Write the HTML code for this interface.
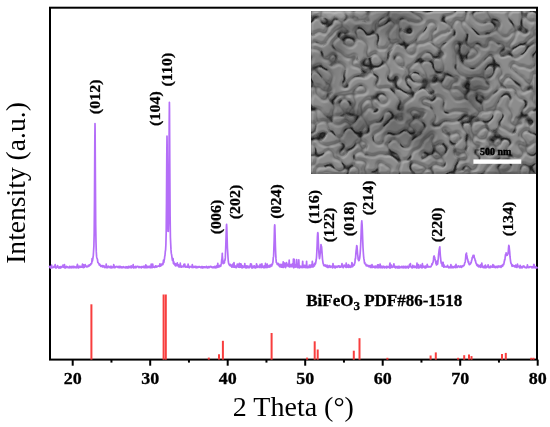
<!DOCTYPE html>
<html><head><meta charset="utf-8"><style>
html,body{margin:0;padding:0;background:#fff;}
body{width:550px;height:427px;overflow:hidden;}
svg{display:block;}
.f{font-family:"Liberation Serif","Times New Roman",serif;}
</style></head><body>
<svg width="550" height="427" viewBox="0 0 550 427">
<defs><filter id="sem" x="0" y="0" width="1" height="1" color-interpolation-filters="sRGB">
<feTurbulence type="fractalNoise" baseFrequency="0.09" numOctaves="1" seed="5"/>
<feColorMatrix type="matrix" values="0 0 0 0 0  0 0 0 0 0  0 0 0 0 0  1 0 0 0 0" result="N"/>
<feComponentTransfer in="N"><feFuncA type="table" tableValues="1.000 1.000 1.000 1.000 1.000 1.000 1.000 1.000 1.000 1.000 1.000 1.000 1.000 1.000 1.000 1.000 1.000 1.000 1.000 1.000 1.000 1.000 1.000 1.000 1.000 1.000 1.000 1.000 1.000 1.000 1.000 1.000 1.000 1.000 0.990 0.765 0.540 0.315 0.090 0.135 0.360 0.585 0.810 1.000 1.000 1.000 1.000 1.000 1.000 1.000 1.000 1.000 1.000 1.000 1.000 1.000 1.000 1.000 1.000 1.000 1.000 1.000 1.000 1.000 1.000 1.000 1.000 1.000 1.000 1.000 1.000 1.000 1.000 1.000 1.000 1.000 1.000 1.000 1.000 1.000 1.000"/></feComponentTransfer>
<feGaussianBlur stdDeviation="0.8" result="H"/>
<feDiffuseLighting in="H" surfaceScale="3" diffuseConstant="1" lighting-color="#fff" result="L"><feDistantLight azimuth="250" elevation="45"/></feDiffuseLighting>
<feDiffuseLighting in="H" surfaceScale="3" diffuseConstant="1" lighting-color="#fff" result="Lz"><feDistantLight azimuth="0" elevation="90"/></feDiffuseLighting>
<feColorMatrix in="Lz" type="matrix" values="0 0 0 0 1  0 0 0 0 1  0 0 0 0 1  -0.55 0 0 0 0.55" result="E"/>
<feColorMatrix in="H" type="matrix" values="0 0 0 1 0  0 0 0 1 0  0 0 0 1 0  0 0 0 0 1" result="Hg"/>
<feBlend in="L" in2="Hg" mode="multiply"/>
<feComponentTransfer result="B"><feFuncR type="linear" slope="0.325" intercept="0.32"/><feFuncG type="linear" slope="0.325" intercept="0.32"/><feFuncB type="linear" slope="0.325" intercept="0.32"/></feComponentTransfer>
<feComponentTransfer in="N" result="C"><feFuncA type="table" tableValues="0.000 0.000 0.000 0.000 0.000 0.000 0.000 0.000 0.000 0.000 0.000 0.000 0.000 0.000 0.000 0.000 0.000 0.000 0.000 0.000 0.000 0.000 0.000 0.000 0.000 0.000 0.000 0.000 0.000 0.000 0.000 0.000 0.040 0.190 0.340 0.490 0.640 0.790 0.940 0.910 0.760 0.610 0.460 0.310 0.160 0.010 0.000 0.000 0.000 0.000 0.000 0.000 0.000 0.000 0.000 0.000 0.000 0.000 0.000 0.000 0.000 0.000 0.000 0.000 0.000 0.000 0.000 0.000 0.000 0.000 0.000 0.000 0.000 0.000 0.000 0.000 0.000 0.000 0.000 0.000 0.000"/></feComponentTransfer>
<feTurbulence type="fractalNoise" baseFrequency="0.07" numOctaves="2" seed="11"/>
<feColorMatrix type="matrix" values="0 0 0 0 0  0 0 0 0 0  0 0 0 0 0  1 0 0 0 0"/>
<feComponentTransfer result="M2"><feFuncA type="table" tableValues="0.000 0.000 0.000 0.000 0.000 0.000 0.000 0.000 0.000 0.000 0.000 0.000 0.000 0.000 0.000 0.000 0.000 0.000 0.000 0.000 0.000 0.000 0.000 0.000 0.000 0.000 0.000 0.000 0.000 0.000 0.000 0.000 0.000 0.000 0.000 0.000 0.000 0.000 0.000 0.000 0.000 0.095 0.190 0.285 0.380 0.475 0.570 0.665 0.760 0.855 0.950 0.950 0.950 0.950 0.950 0.950 0.950 0.950 0.950 0.950 0.950 0.950 0.950 0.950 0.950 0.950 0.950 0.950 0.950 0.950 0.950 0.950 0.950 0.950 0.950 0.950 0.950 0.950 0.950 0.950 0.950"/></feComponentTransfer>
<feComposite in="C" in2="M2" operator="in"/>
<feGaussianBlur stdDeviation="0.5" result="PA"/>
<feFlood flood-color="#141414"/>
<feComposite in2="PA" operator="in" result="PO"/>
<feMerge result="F"><feMergeNode in="B"/><feMergeNode in="E"/><feMergeNode in="PO"/></feMerge>
<feTurbulence type="fractalNoise" baseFrequency="0.02" numOctaves="2" seed="2"/>
<feColorMatrix type="matrix" values="0.8 0 0 0 0.55  0.8 0 0 0 0.55  0.8 0 0 0 0.55  0 0 0 0 1"/>
<feBlend in="F" mode="multiply"/>
<feGaussianBlur stdDeviation="0.75"/>
</filter></defs>
<rect x="0" y="0" width="550" height="427" fill="#fff"/>
<rect x="311" y="11" width="225" height="162.4" fill="#777" filter="url(#sem)"/>
<defs><radialGradient id="hl" cx="0.5" cy="0.5" r="0.5"><stop offset="0" stop-color="#fff" stop-opacity="0.32"/><stop offset="1" stop-color="#fff" stop-opacity="0"/></radialGradient>
<clipPath id="semclip"><rect x="311" y="11" width="225" height="162.4"/></clipPath></defs>
<ellipse cx="350" cy="14" rx="45" ry="12" fill="url(#hl)" clip-path="url(#semclip)"/>
<rect x="473.4" y="159.4" width="47.9" height="4.4" fill="#fff"/>
<text class="f" x="495.6" y="155.4" font-size="10" font-weight="bold" text-anchor="middle" fill="#000" stroke="#000" stroke-width="0.35">500 nm</text>
<g stroke="#000" stroke-width="2"><line x1="72.70" y1="359.6" x2="72.70" y2="365.70000000000005"/><line x1="111.45" y1="359.6" x2="111.45" y2="362.6"/><line x1="150.20" y1="359.6" x2="150.20" y2="365.70000000000005"/><line x1="188.95" y1="359.6" x2="188.95" y2="362.6"/><line x1="227.70" y1="359.6" x2="227.70" y2="365.70000000000005"/><line x1="266.45" y1="359.6" x2="266.45" y2="362.6"/><line x1="305.20" y1="359.6" x2="305.20" y2="365.70000000000005"/><line x1="343.95" y1="359.6" x2="343.95" y2="362.6"/><line x1="382.70" y1="359.6" x2="382.70" y2="365.70000000000005"/><line x1="421.45" y1="359.6" x2="421.45" y2="362.6"/><line x1="460.20" y1="359.6" x2="460.20" y2="365.70000000000005"/><line x1="498.95" y1="359.6" x2="498.95" y2="362.6"/><line x1="537.70" y1="359.6" x2="537.70" y2="365.70000000000005"/></g>
<rect x="50" y="7.7" width="487" height="351.9" fill="none" stroke="#000" stroke-width="2"/>
<polyline points="49.2,267.0 49.5,266.5 49.8,266.7 50.1,267.7 50.4,267.6 50.7,266.6 51.0,268.1 51.3,266.7 51.6,265.1 51.9,267.3 52.2,267.5 52.5,267.6 52.8,267.6 53.1,267.3 53.4,267.2 53.7,267.1 54.0,266.4 54.3,266.7 54.6,267.0 54.9,266.4 55.2,264.7 55.5,267.8 55.8,267.0 56.1,266.8 56.4,268.0 56.7,267.2 57.0,267.3 57.3,266.5 57.6,265.6 57.9,267.2 58.2,267.2 58.5,267.6 58.8,268.0 59.1,267.7 59.4,266.9 59.7,267.7 60.0,267.4 60.3,268.0 60.6,266.6 60.9,266.6 61.2,267.6 61.5,266.5 61.8,267.2 62.1,266.6 62.4,266.9 62.7,266.8 63.0,265.0 63.3,267.1 63.6,267.2 63.9,266.6 64.2,267.4 64.5,264.5 64.8,267.9 65.1,267.4 65.4,267.5 65.7,267.8 66.0,266.6 66.3,267.4 66.6,266.4 66.9,267.0 67.2,267.0 67.5,266.9 67.8,266.9 68.1,267.8 68.4,267.3 68.7,267.6 69.0,267.3 69.3,267.8 69.6,266.4 69.9,267.6 70.2,266.9 70.5,267.5 70.8,266.5 71.1,266.9 71.4,267.8 71.7,266.6 72.0,266.4 72.3,266.4 72.6,267.0 72.9,267.7 73.2,267.6 73.5,266.4 73.8,267.0 74.1,267.7 74.4,266.5 74.7,266.9 75.0,267.0 75.3,267.3 75.6,267.2 75.9,267.5 76.2,267.9 76.5,266.4 76.8,267.1 77.1,267.0 77.4,264.4 77.7,266.6 78.0,267.8 78.3,267.3 78.6,267.9 78.9,267.7 79.2,266.2 79.5,266.7 79.8,267.1 80.1,266.9 80.4,266.3 80.7,267.3 81.0,266.8 81.3,266.6 81.6,267.2 81.9,266.9 82.2,266.5 82.5,264.2 82.8,267.5 83.1,264.7 83.4,267.7 83.7,264.8 84.0,266.3 84.3,267.3 84.6,265.6 84.9,266.3 85.2,264.6 85.5,266.4 85.8,266.2 86.1,266.5 86.4,266.2 86.7,267.0 87.0,267.0 87.3,266.7 87.6,266.7 87.9,266.6 88.2,265.4 88.5,265.9 88.8,266.1 89.1,266.0 89.4,264.8 89.7,265.4 90.0,264.6 90.3,264.9 90.6,264.9 90.9,263.5 91.2,263.5 91.5,263.7 91.8,262.6 92.1,258.5 92.4,261.2 92.7,259.7 93.0,257.6 93.3,255.5 93.6,250.8 93.9,245.8 94.2,232.6 94.5,198.6 94.8,143.2 95.0,123.5 95.1,128.2 95.4,180.3 95.7,224.9 96.0,242.3 96.3,251.9 96.6,256.4 96.9,258.0 97.2,258.8 97.5,259.6 97.8,262.3 98.1,262.6 98.4,263.0 98.7,263.3 99.0,263.9 99.3,264.9 99.6,264.0 99.9,265.4 100.2,265.0 100.5,265.5 100.8,266.5 101.1,266.5 101.4,266.3 101.7,265.7 102.0,265.7 102.3,266.0 102.6,267.0 102.9,265.7 103.2,266.0 103.5,265.9 103.8,266.5 104.1,266.0 104.4,267.4 104.7,267.5 105.0,267.6 105.3,267.1 105.6,267.2 105.9,267.4 106.2,264.1 106.5,267.6 106.8,266.7 107.1,267.5 107.4,266.6 107.7,267.7 108.0,267.2 108.3,266.2 108.6,266.9 108.9,266.4 109.2,266.7 109.5,266.8 109.8,267.5 110.1,266.8 110.4,267.8 110.7,266.5 111.0,266.2 111.3,266.4 111.6,267.8 111.9,267.3 112.2,267.4 112.5,267.7 112.8,266.8 113.1,266.5 113.4,267.4 113.7,264.6 114.0,266.5 114.3,267.7 114.6,266.6 114.9,266.4 115.2,267.6 115.5,267.0 115.8,266.8 116.1,266.9 116.4,266.5 116.7,266.8 117.0,266.9 117.3,266.6 117.6,266.6 117.9,267.4 118.2,266.7 118.5,266.5 118.8,266.5 119.1,267.7 119.4,266.3 119.7,266.8 120.0,267.6 120.3,267.0 120.6,266.4 120.9,267.3 121.2,267.5 121.5,267.2 121.8,266.9 122.1,267.8 122.4,267.3 122.7,267.7 123.0,266.9 123.3,266.6 123.6,267.3 123.9,267.4 124.2,267.1 124.5,267.6 124.8,267.6 125.1,267.4 125.4,267.2 125.7,267.8 126.0,266.7 126.3,267.0 126.6,267.5 126.9,267.8 127.2,266.7 127.5,267.8 127.8,267.8 128.1,267.8 128.4,267.8 128.7,266.4 129.0,267.5 129.3,267.5 129.6,266.6 129.9,266.9 130.2,267.7 130.5,267.3 130.8,266.5 131.1,265.8 131.4,266.8 131.7,267.8 132.0,266.7 132.3,266.6 132.6,266.6 132.9,266.8 133.2,264.5 133.5,267.9 133.8,267.1 134.1,266.7 134.4,267.7 134.7,267.5 135.0,267.1 135.3,266.7 135.6,266.4 135.9,267.8 136.2,267.6 136.5,266.6 136.8,266.8 137.1,266.7 137.4,266.3 137.7,266.3 138.0,266.5 138.3,266.6 138.6,267.3 138.9,266.9 139.2,267.6 139.5,266.7 139.8,266.6 140.1,266.7 140.4,267.2 140.7,267.3 141.0,267.2 141.3,267.9 141.6,266.5 141.9,267.0 142.2,267.2 142.5,267.0 142.8,266.7 143.1,267.3 143.4,266.5 143.7,266.3 144.0,267.2 144.3,267.7 144.6,266.6 144.9,266.2 145.2,267.7 145.5,266.6 145.8,264.8 146.1,266.3 146.4,267.7 146.7,267.7 147.0,266.2 147.3,267.6 147.6,267.5 147.9,266.8 148.2,267.1 148.5,266.6 148.8,267.5 149.1,266.2 149.4,267.4 149.7,266.5 150.0,267.6 150.3,267.0 150.6,267.7 150.9,267.2 151.2,264.2 151.5,266.5 151.8,266.9 152.1,267.6 152.4,266.0 152.7,264.1 153.0,266.1 153.3,267.2 153.6,266.9 153.9,267.2 154.2,267.4 154.5,267.4 154.8,266.7 155.1,267.3 155.4,265.9 155.7,265.9 156.0,266.6 156.3,267.0 156.6,266.2 156.9,266.9 157.2,266.4 157.5,266.6 157.8,266.2 158.1,266.1 158.4,266.1 158.7,266.2 159.0,265.6 159.3,265.4 159.6,266.4 159.9,263.9 160.2,266.2 160.5,264.8 160.8,264.4 161.1,265.6 161.4,264.3 161.7,265.4 162.0,264.7 162.3,264.3 162.6,263.3 162.9,264.5 163.2,262.9 163.5,260.0 163.8,262.5 164.1,260.5 164.4,259.4 164.7,256.6 165.0,255.2 165.3,251.5 165.6,249.8 165.9,244.4 166.2,232.6 166.5,202.1 166.8,154.3 167.0,136.2 167.1,140.9 167.4,182.2 167.7,217.8 168.0,231.2 168.3,231.4 168.6,219.7 168.9,182.2 169.2,123.3 169.4,102.3 169.5,108.4 169.8,166.7 170.1,215.6 170.4,237.3 170.7,243.9 171.0,249.9 171.3,253.4 171.6,254.6 171.9,256.8 172.2,258.8 172.5,260.5 172.8,260.4 173.1,258.7 173.4,263.5 173.7,261.7 174.0,264.2 174.3,263.8 174.6,263.2 174.9,265.1 175.2,264.3 175.5,265.8 175.8,263.9 176.1,265.1 176.4,264.3 176.7,264.8 177.0,265.6 177.3,262.9 177.6,264.9 177.9,265.7 178.2,265.8 178.5,264.9 178.8,267.0 179.1,266.1 179.4,265.7 179.7,265.9 180.0,267.0 180.3,263.2 180.6,266.9 180.9,266.9 181.2,266.0 181.5,267.2 181.8,266.8 182.1,266.3 182.4,266.3 182.7,266.7 183.0,266.2 183.3,266.8 183.6,266.6 183.9,264.4 184.2,266.5 184.5,266.6 184.8,264.2 185.1,266.7 185.4,267.0 185.7,266.5 186.0,267.1 186.3,267.0 186.6,266.5 186.9,266.9 187.2,267.2 187.5,266.4 187.8,267.2 188.1,264.2 188.4,266.5 188.7,267.1 189.0,266.6 189.3,267.8 189.6,267.2 189.9,266.4 190.2,266.9 190.5,266.9 190.8,266.7 191.1,266.7 191.4,266.9 191.7,267.1 192.0,267.5 192.3,264.5 192.6,267.4 192.9,267.2 193.2,266.2 193.5,267.3 193.8,267.1 194.1,267.3 194.4,266.9 194.7,266.3 195.0,266.4 195.3,267.3 195.6,267.5 195.9,266.4 196.2,267.1 196.5,266.8 196.8,267.8 197.1,266.5 197.4,267.4 197.7,267.1 198.0,267.6 198.3,267.2 198.6,266.5 198.9,266.5 199.2,267.1 199.5,266.6 199.8,267.2 200.1,267.3 200.4,267.0 200.7,267.6 201.0,267.4 201.3,266.7 201.6,266.6 201.9,267.9 202.2,266.7 202.5,266.6 202.8,267.2 203.1,267.8 203.4,266.8 203.7,267.5 204.0,266.8 204.3,267.3 204.6,266.8 204.9,267.5 205.2,267.1 205.5,267.1 205.8,266.9 206.1,267.6 206.4,266.3 206.7,267.4 207.0,267.4 207.3,267.5 207.6,267.8 207.9,267.2 208.2,266.6 208.5,266.7 208.8,267.6 209.1,267.7 209.4,267.4 209.7,266.6 210.0,267.1 210.3,266.3 210.6,266.8 210.9,266.8 211.2,266.6 211.5,266.6 211.8,267.3 212.1,267.5 212.4,267.1 212.7,267.0 213.0,267.6 213.3,267.1 213.6,266.8 213.9,267.6 214.2,267.6 214.5,267.5 214.8,267.3 215.1,266.2 215.4,267.8 215.7,267.4 216.0,267.5 216.3,266.9 216.6,267.7 216.9,265.6 217.2,267.3 217.5,267.1 217.8,263.3 218.1,267.2 218.4,266.3 218.7,266.7 219.0,266.5 219.3,265.8 219.6,266.8 219.9,265.4 220.2,265.3 220.5,265.6 220.8,266.0 221.1,264.4 221.4,263.2 221.7,259.9 222.0,258.3 222.3,253.3 222.3,255.6 222.6,258.4 222.9,261.5 223.2,263.6 223.5,263.0 223.8,263.2 224.1,262.8 224.4,262.8 224.7,260.2 225.0,260.3 225.3,257.9 225.6,250.6 225.9,243.0 226.2,233.1 226.5,224.7 226.6,224.4 226.8,227.3 227.1,237.8 227.4,247.7 227.7,252.1 228.0,257.3 228.3,261.2 228.6,263.2 228.9,264.0 229.2,264.5 229.5,265.2 229.8,265.1 230.1,264.2 230.4,266.0 230.7,264.8 231.0,265.5 231.3,265.1 231.6,266.1 231.9,267.2 232.2,265.6 232.5,266.9 232.8,264.1 233.1,265.8 233.4,266.1 233.7,267.1 234.0,262.5 234.3,265.6 234.6,267.1 234.9,266.1 235.2,267.4 235.5,266.0 235.8,266.4 236.1,266.7 236.4,267.7 236.7,266.6 237.0,266.0 237.3,264.0 237.6,266.2 237.9,266.2 238.2,266.5 238.5,267.2 238.8,264.1 239.1,266.9 239.4,263.4 239.7,267.3 240.0,266.2 240.3,266.5 240.6,263.9 240.9,267.1 241.2,264.0 241.5,266.4 241.8,267.1 242.1,267.9 242.4,265.8 242.7,266.4 243.0,267.5 243.3,266.4 243.6,267.3 243.9,266.9 244.2,266.1 244.5,267.0 244.8,263.5 245.1,267.3 245.4,267.8 245.7,267.5 246.0,267.4 246.3,265.8 246.6,267.9 246.9,267.0 247.2,267.5 247.5,266.4 247.8,266.0 248.1,267.4 248.4,266.7 248.7,266.9 249.0,267.8 249.3,267.7 249.6,266.0 249.9,266.9 250.2,266.2 250.5,263.8 250.8,266.7 251.1,266.1 251.4,264.0 251.7,268.0 252.0,266.8 252.3,267.2 252.6,266.3 252.9,267.8 253.2,267.4 253.5,266.2 253.8,267.0 254.1,267.0 254.4,265.9 254.7,267.3 255.0,267.9 255.3,267.1 255.6,267.6 255.9,267.8 256.2,266.7 256.5,263.8 256.8,264.7 257.1,266.6 257.4,267.3 257.7,266.7 258.0,266.3 258.3,266.7 258.6,266.2 258.9,266.8 259.2,267.5 259.5,266.7 259.8,266.9 260.1,264.4 260.4,266.6 260.7,266.1 261.0,267.7 261.3,266.7 261.6,266.3 261.9,263.9 262.2,267.3 262.5,267.1 262.8,266.7 263.1,266.4 263.4,266.7 263.7,267.7 264.0,266.1 264.3,265.8 264.6,267.6 264.9,267.3 265.2,267.4 265.5,263.4 265.8,265.8 266.1,267.7 266.4,267.0 266.7,267.3 267.0,266.6 267.3,264.2 267.6,267.5 267.9,267.2 268.2,266.5 268.5,266.4 268.8,265.8 269.1,266.4 269.4,267.0 269.7,266.5 270.0,265.0 270.3,265.5 270.6,266.7 270.9,264.8 271.2,265.8 271.5,264.3 271.8,265.8 272.1,263.9 272.4,264.3 272.7,263.2 273.0,261.3 273.3,257.4 273.6,256.4 273.9,248.1 274.2,239.7 274.5,227.1 274.7,224.9 274.8,225.0 275.1,234.9 275.4,245.9 275.7,253.7 276.0,258.9 276.3,262.4 276.6,262.7 276.9,263.0 277.2,264.4 277.5,264.2 277.8,263.6 278.1,264.9 278.4,263.5 278.7,263.7 279.0,265.8 279.3,264.6 279.6,266.3 279.9,266.8 280.2,266.0 280.5,265.5 280.8,264.3 281.1,267.1 281.4,265.1 281.7,266.0 282.0,267.2 282.3,264.3 282.6,265.3 282.9,267.3 283.2,261.8 283.5,267.4 283.8,262.9 284.1,266.7 284.4,264.6 284.7,263.1 285.0,264.7 285.3,265.7 285.6,267.6 285.9,265.9 286.2,266.3 286.5,262.6 286.8,265.4 287.1,265.6 287.4,264.5 287.7,264.3 288.0,265.2 288.3,266.5 288.6,265.3 288.9,264.9 289.2,260.2 289.5,267.0 289.8,266.4 290.1,264.7 290.4,264.7 290.7,266.7 291.0,264.7 291.3,266.6 291.6,266.7 291.9,265.4 292.2,266.3 292.5,263.5 292.8,266.7 293.1,266.5 293.4,259.2 293.7,267.8 294.0,265.4 294.3,259.3 294.6,265.7 294.9,265.2 295.2,267.2 295.5,264.9 295.8,267.0 296.1,266.9 296.4,265.4 296.7,259.7 297.0,266.9 297.3,265.8 297.6,267.3 297.9,267.6 298.2,265.6 298.5,265.4 298.8,259.8 299.1,265.8 299.4,267.8 299.7,266.6 300.0,266.0 300.3,267.3 300.6,267.0 300.9,266.4 301.2,266.4 301.5,267.5 301.8,266.1 302.1,267.7 302.4,265.4 302.7,261.4 303.0,267.3 303.3,267.4 303.6,265.3 303.9,267.2 304.2,266.3 304.5,265.3 304.8,265.4 305.1,267.7 305.4,266.5 305.7,266.3 306.0,266.0 306.3,267.0 306.6,261.4 306.9,267.8 307.2,267.7 307.5,266.3 307.8,267.6 308.1,267.2 308.4,266.8 308.7,267.5 309.0,267.6 309.3,265.2 309.6,266.5 309.9,267.0 310.2,265.7 310.5,267.5 310.8,266.8 311.1,264.9 311.4,265.0 311.7,265.7 312.0,267.0 312.3,261.3 312.6,264.4 312.9,266.5 313.2,266.9 313.5,266.2 313.8,264.9 314.1,264.5 314.4,265.9 314.7,263.4 315.0,264.4 315.3,264.0 315.6,263.4 315.9,261.5 316.2,260.0 316.5,257.5 316.8,252.3 317.1,246.0 317.4,237.3 317.7,232.8 317.8,232.6 318.0,233.4 318.3,240.7 318.6,247.6 318.9,252.8 319.2,256.3 319.5,258.7 319.8,256.8 320.1,254.2 320.4,252.6 320.7,249.2 321.0,244.6 321.2,245.9 321.3,246.1 321.6,246.8 321.9,250.8 322.2,255.0 322.5,259.3 322.8,261.3 323.1,263.3 323.4,264.0 323.7,265.4 324.0,265.2 324.3,265.9 324.6,265.1 324.9,265.5 325.2,264.9 325.5,265.1 325.8,266.4 326.1,266.5 326.4,265.3 326.7,266.3 327.0,267.1 327.3,267.3 327.6,265.4 327.9,266.3 328.2,267.5 328.5,266.5 328.8,266.5 329.1,266.7 329.4,265.6 329.7,265.7 330.0,267.4 330.3,267.4 330.6,266.9 330.9,266.0 331.2,266.5 331.5,266.3 331.8,266.6 332.1,267.4 332.4,266.1 332.7,267.8 333.0,263.6 333.3,266.1 333.6,266.8 333.9,265.8 334.2,266.7 334.5,267.7 334.8,266.9 335.1,266.4 335.4,267.8 335.7,267.3 336.0,266.0 336.3,266.7 336.6,267.0 336.9,266.8 337.2,267.3 337.5,266.5 337.8,266.0 338.1,266.0 338.4,265.8 338.7,266.8 339.0,266.9 339.3,266.1 339.6,267.3 339.9,266.2 340.2,267.2 340.5,266.4 340.8,267.2 341.1,266.6 341.4,265.9 341.7,265.8 342.0,263.7 342.3,266.7 342.6,267.1 342.9,267.1 343.2,267.7 343.5,267.3 343.8,266.5 344.1,265.0 344.4,266.4 344.7,265.8 345.0,265.7 345.3,265.9 345.6,266.1 345.9,267.4 346.2,263.1 346.5,267.3 346.8,265.8 347.1,265.8 347.4,266.4 347.7,266.6 348.0,267.2 348.3,264.6 348.6,267.0 348.9,267.4 349.2,265.6 349.5,265.8 349.8,265.5 350.1,267.1 350.4,267.3 350.7,266.9 351.0,267.1 351.3,266.9 351.6,266.0 351.9,262.6 352.2,263.6 352.5,266.6 352.8,265.8 353.1,265.9 353.4,265.5 353.7,265.3 354.0,264.4 354.3,265.0 354.6,263.2 354.9,263.2 355.2,258.9 355.5,258.9 355.8,254.6 356.1,250.9 356.4,248.8 356.7,245.5 356.8,245.9 357.0,246.2 357.3,250.4 357.6,254.0 357.9,256.2 358.2,259.8 358.5,259.8 358.8,260.6 359.1,260.5 359.4,259.4 359.7,258.1 360.0,255.1 360.3,251.5 360.6,246.6 360.9,240.1 361.2,231.3 361.5,223.8 361.8,220.8 361.8,221.2 362.1,224.6 362.4,231.5 362.7,239.8 363.0,247.2 363.3,252.2 363.6,256.3 363.9,258.7 364.2,260.5 364.5,263.2 364.8,262.6 365.1,263.6 365.4,264.3 365.7,264.7 366.0,264.3 366.3,265.9 366.6,265.2 366.9,265.3 367.2,265.7 367.5,265.2 367.8,266.1 368.1,266.2 368.4,266.5 368.7,265.5 369.0,266.6 369.3,266.1 369.6,266.7 369.9,265.7 370.2,265.7 370.5,267.5 370.8,265.7 371.1,266.4 371.4,267.4 371.7,266.7 372.0,264.5 372.3,266.6 372.6,267.4 372.9,267.0 373.2,267.2 373.5,266.7 373.8,266.3 374.1,266.1 374.4,267.2 374.7,266.8 375.0,267.8 375.3,267.2 375.6,266.1 375.9,267.6 376.2,266.3 376.5,266.7 376.8,267.3 377.1,266.4 377.4,266.2 377.7,264.8 378.0,267.8 378.3,264.8 378.6,266.5 378.9,267.1 379.2,267.6 379.5,267.0 379.8,267.4 380.1,264.0 380.4,266.6 380.7,266.4 381.0,267.8 381.3,266.9 381.6,266.2 381.9,267.1 382.2,266.6 382.5,267.8 382.8,266.4 383.1,266.9 383.4,266.4 383.7,266.5 384.0,266.4 384.3,267.9 384.6,266.7 384.9,267.6 385.2,267.5 385.5,267.4 385.8,266.9 386.1,266.8 386.4,266.3 386.7,268.0 387.0,267.6 387.3,267.3 387.6,266.5 387.9,267.0 388.2,267.1 388.5,266.6 388.8,266.8 389.1,267.5 389.4,267.8 389.7,264.4 390.0,263.1 390.3,266.9 390.6,267.9 390.9,267.2 391.2,267.3 391.5,265.2 391.8,267.0 392.1,266.3 392.4,267.4 392.7,267.3 393.0,266.9 393.3,266.4 393.6,266.7 393.9,263.8 394.2,266.5 394.5,267.1 394.8,266.3 395.1,267.5 395.4,267.8 395.7,266.5 396.0,267.5 396.3,266.5 396.6,266.9 396.9,267.1 397.2,267.9 397.5,266.6 397.8,267.9 398.1,266.3 398.4,266.5 398.7,267.5 399.0,267.8 399.3,266.4 399.6,267.2 399.9,267.8 400.2,267.1 400.5,267.6 400.8,267.3 401.1,266.9 401.4,266.4 401.7,266.6 402.0,267.7 402.3,267.2 402.6,267.1 402.9,266.3 403.2,267.9 403.5,267.1 403.8,266.4 404.1,267.3 404.4,267.6 404.7,267.0 405.0,267.5 405.3,266.4 405.6,267.9 405.9,267.7 406.2,267.9 406.5,266.7 406.8,267.5 407.1,266.4 407.4,266.4 407.7,266.3 408.0,267.6 408.3,268.0 408.6,267.3 408.9,266.3 409.2,266.7 409.5,264.5 409.8,266.8 410.1,266.4 410.4,263.7 410.7,266.7 411.0,266.5 411.3,266.5 411.6,267.4 411.9,267.8 412.2,266.7 412.5,267.8 412.8,265.4 413.1,266.2 413.4,267.0 413.7,267.1 414.0,266.3 414.3,267.5 414.6,266.2 414.9,266.4 415.2,267.3 415.5,267.4 415.8,266.4 416.1,266.4 416.4,267.7 416.7,268.0 417.0,263.2 417.3,266.9 417.6,266.8 417.9,266.7 418.2,267.9 418.5,264.6 418.8,267.1 419.1,267.9 419.4,267.1 419.7,266.7 420.0,266.8 420.3,266.9 420.6,265.1 420.9,267.5 421.2,266.3 421.5,267.7 421.8,267.0 422.1,267.8 422.4,263.7 422.7,267.6 423.0,267.2 423.3,267.0 423.6,266.6 423.9,266.2 424.2,266.6 424.5,267.3 424.8,267.8 425.1,266.6 425.4,266.1 425.7,267.8 426.0,266.5 426.3,267.5 426.6,267.0 426.9,266.9 427.2,264.4 427.5,266.0 427.8,266.5 428.1,267.0 428.4,266.4 428.7,266.9 429.0,266.9 429.3,266.9 429.6,266.6 429.9,266.9 430.2,266.9 430.5,267.0 430.8,266.5 431.1,266.5 431.4,265.5 431.7,265.1 432.0,263.6 432.3,264.6 432.6,263.0 432.9,262.7 433.2,261.8 433.5,259.4 433.8,256.4 434.1,256.0 434.2,258.9 434.4,256.9 434.7,257.6 435.0,259.0 435.3,260.2 435.6,261.2 435.9,263.6 436.2,263.5 436.5,265.0 436.8,264.4 437.1,261.1 437.4,264.2 437.7,264.0 438.0,260.7 438.3,258.5 438.6,254.3 438.9,252.1 439.2,249.6 439.5,248.2 439.5,247.9 439.8,246.9 440.1,252.2 440.4,256.3 440.7,258.8 441.0,261.8 441.3,263.3 441.6,263.6 441.9,262.4 442.2,266.2 442.5,265.6 442.8,265.8 443.1,262.3 443.4,265.6 443.7,267.2 444.0,264.8 444.3,267.0 444.6,266.2 444.9,266.9 445.2,267.0 445.5,266.8 445.8,266.7 446.1,266.5 446.4,266.6 446.7,266.5 447.0,267.1 447.3,266.6 447.6,265.3 447.9,266.8 448.2,267.0 448.5,266.8 448.8,267.8 449.1,267.0 449.4,267.4 449.7,267.2 450.0,267.7 450.3,266.7 450.6,266.3 450.9,264.6 451.2,267.6 451.5,266.8 451.8,267.6 452.1,266.3 452.4,267.6 452.7,267.2 453.0,267.0 453.3,267.7 453.6,267.3 453.9,267.4 454.2,266.6 454.5,266.2 454.8,267.2 455.1,266.5 455.4,267.6 455.7,266.8 456.0,264.4 456.3,267.3 456.6,266.4 456.9,266.5 457.2,267.5 457.5,267.2 457.8,266.4 458.1,266.0 458.4,266.7 458.7,266.2 459.0,266.1 459.3,266.4 459.6,266.5 459.9,267.3 460.2,266.9 460.5,266.5 460.8,266.0 461.1,266.9 461.4,266.7 461.7,267.3 462.0,266.0 462.3,266.5 462.6,265.8 462.9,266.4 463.2,265.8 463.5,265.3 463.8,265.6 464.1,265.3 464.4,264.5 464.7,262.8 465.0,262.5 465.3,261.4 465.6,258.6 465.9,254.2 466.2,255.8 466.5,253.0 466.5,255.9 466.8,255.4 467.1,257.0 467.4,259.1 467.7,259.1 468.0,261.2 468.3,262.6 468.6,261.5 468.9,263.7 469.2,264.5 469.5,263.9 469.8,264.5 470.1,264.2 470.4,263.9 470.7,263.3 471.0,262.8 471.3,262.1 471.6,260.3 471.9,260.0 472.2,257.7 472.5,257.8 472.8,256.5 473.1,255.4 473.4,256.2 473.5,257.1 473.7,256.9 474.0,255.3 474.3,257.6 474.6,258.4 474.9,258.8 475.2,260.8 475.5,260.5 475.8,262.7 476.1,263.3 476.4,263.5 476.7,265.1 477.0,265.0 477.3,265.6 477.6,264.7 477.9,266.1 478.2,266.4 478.5,265.3 478.8,266.8 479.1,265.4 479.4,265.8 479.7,266.3 480.0,266.6 480.3,267.1 480.6,267.3 480.9,264.7 481.2,267.0 481.5,266.9 481.8,263.2 482.1,265.3 482.4,265.9 482.7,266.4 483.0,267.4 483.3,266.8 483.6,267.5 483.9,267.7 484.2,266.2 484.5,267.2 484.8,267.5 485.1,267.6 485.4,265.1 485.7,267.0 486.0,267.8 486.3,266.6 486.6,267.4 486.9,266.5 487.2,267.0 487.5,266.9 487.8,267.0 488.1,264.8 488.4,266.2 488.7,266.5 489.0,267.7 489.3,267.0 489.6,267.5 489.9,267.7 490.2,267.6 490.5,266.0 490.8,266.2 491.1,266.6 491.4,266.4 491.7,266.7 492.0,267.3 492.3,267.2 492.6,267.1 492.9,264.6 493.2,265.8 493.5,266.5 493.8,265.4 494.1,267.4 494.4,267.0 494.7,266.7 495.0,266.7 495.3,266.5 495.6,267.6 495.9,267.5 496.2,267.2 496.5,267.3 496.8,266.5 497.1,266.1 497.4,266.5 497.7,267.6 498.0,267.1 498.3,266.3 498.6,266.0 498.9,266.5 499.2,266.9 499.5,266.9 499.8,266.3 500.1,265.9 500.4,266.8 500.7,267.0 501.0,267.3 501.3,266.9 501.6,265.6 501.9,265.7 502.2,265.1 502.5,266.3 502.8,265.6 503.1,264.5 503.4,264.2 503.7,264.7 504.0,263.2 504.3,261.8 504.6,259.7 504.9,260.0 505.2,257.2 505.5,254.6 505.8,256.0 506.1,252.8 506.2,254.9 506.4,254.1 506.7,254.2 507.0,254.4 507.3,255.2 507.6,254.4 507.9,254.1 508.2,252.7 508.5,248.4 508.8,245.3 509.0,247.9 509.1,246.2 509.4,249.3 509.7,252.1 510.0,256.7 510.3,259.0 510.6,261.3 510.9,263.0 511.2,263.5 511.5,264.1 511.8,265.3 512.1,266.3 512.4,264.8 512.7,266.1 513.0,265.6 513.3,265.6 513.6,265.7 513.9,265.8 514.2,266.5 514.5,265.9 514.8,266.6 515.1,267.0 515.4,266.7 515.7,265.0 516.0,266.3 516.3,266.2 516.6,267.4 516.9,267.4 517.2,267.0 517.5,264.0 517.8,266.1 518.1,266.1 518.4,266.2 518.7,266.5 519.0,266.7 519.3,267.4 519.6,267.2 519.9,267.9 520.2,265.4 520.5,267.4 520.8,267.7 521.1,267.4 521.4,267.3 521.7,266.7 522.0,267.9 522.3,267.6 522.6,266.4 522.9,266.5 523.2,266.9 523.5,267.0 523.8,265.9 524.1,266.5 524.4,266.7 524.7,267.1 525.0,267.7 525.3,267.6 525.6,267.3 525.9,267.4 526.2,267.9 526.5,267.3 526.8,267.2 527.1,267.5 527.4,264.9 527.7,266.3 528.0,267.4 528.3,267.0 528.6,267.1 528.9,267.7 529.2,266.7 529.5,267.1 529.8,267.2 530.1,266.8 530.4,266.7 530.7,266.6 531.0,266.6 531.3,266.9 531.6,266.8 531.9,267.8 532.2,266.8 532.5,267.6 532.8,267.6 533.1,267.8 533.4,267.4 533.7,265.0 534.0,264.4 534.3,266.8 534.6,266.7 534.9,267.8 535.2,267.0 535.5,266.6 535.8,268.0 536.1,267.7 536.4,267.6 536.7,267.3 537.0,267.8 537.3,267.1" fill="none" stroke="#b46ef8" stroke-width="1.7" stroke-linejoin="round"/>
<g stroke="#f83e3e" stroke-width="2"><line x1="91.4" y1="359.6" x2="91.4" y2="304.3"/><line x1="163.6" y1="359.6" x2="163.6" y2="294.5"/><line x1="165.8" y1="359.6" x2="165.8" y2="294.5"/><line x1="208.8" y1="359.6" x2="208.8" y2="357.6"/><line x1="219.0" y1="359.6" x2="219.0" y2="354.3"/><line x1="222.9" y1="359.6" x2="222.9" y2="340.8"/><line x1="271.6" y1="359.6" x2="271.6" y2="333.0"/><line x1="307.1" y1="359.6" x2="307.1" y2="357.6"/><line x1="314.7" y1="359.6" x2="314.7" y2="341.3"/><line x1="317.7" y1="359.6" x2="317.7" y2="349.5"/><line x1="353.8" y1="359.6" x2="353.8" y2="350.7"/><line x1="359.5" y1="359.6" x2="359.5" y2="338.2"/><line x1="387.4" y1="359.6" x2="387.4" y2="357.8"/><line x1="430.6" y1="359.6" x2="430.6" y2="355.5"/><line x1="435.8" y1="359.6" x2="435.8" y2="352.4"/><line x1="458.1" y1="359.6" x2="458.1" y2="357.8"/><line x1="464.2" y1="359.6" x2="464.2" y2="355.2"/><line x1="469.0" y1="359.6" x2="469.0" y2="354.4"/><line x1="471.5" y1="359.6" x2="471.5" y2="356.1"/><line x1="502.0" y1="359.6" x2="502.0" y2="353.9"/><line x1="505.8" y1="359.6" x2="505.8" y2="352.9"/><line x1="531.2" y1="359.6" x2="531.2" y2="357.8"/><line x1="533.5" y1="359.6" x2="533.5" y2="357.8"/></g>
<g class="f" font-size="18" font-weight="bold" text-anchor="middle" stroke="#000" stroke-width="0.3"><text transform="translate(72.70 383.8) scale(1 0.92)">20</text><text transform="translate(150.20 383.8) scale(1 0.92)">30</text><text transform="translate(227.70 383.8) scale(1 0.92)">40</text><text transform="translate(305.20 383.8) scale(1 0.92)">50</text><text transform="translate(382.70 383.8) scale(1 0.92)">60</text><text transform="translate(460.20 383.8) scale(1 0.92)">70</text><text transform="translate(537.70 383.8) scale(1 0.92)">80</text></g>
<g class="f" font-size="16" font-weight="bold" text-anchor="middle" stroke="#000" stroke-width="0.3"><text transform="translate(100.00 96.80) rotate(-90) scale(1 0.9)">(012)</text><text transform="translate(159.60 108.60) rotate(-90) scale(1 0.9)">(104)</text><text transform="translate(172.00 69.65) rotate(-90) scale(1 0.9)">(110)</text><text transform="translate(221.10 217.00) rotate(-90) scale(1 0.9)">(006)</text><text transform="translate(240.10 202.00) rotate(-90) scale(1 0.9)">(202)</text><text transform="translate(281.10 201.40) rotate(-90) scale(1 0.9)">(024)</text><text transform="translate(318.90 206.90) rotate(-90) scale(1 0.9)">(116)</text><text transform="translate(334.40 225.00) rotate(-90) scale(1 0.9)">(122)</text><text transform="translate(354.20 218.80) rotate(-90) scale(1 0.9)">(018)</text><text transform="translate(373.20 197.80) rotate(-90) scale(1 0.9)">(214)</text><text transform="translate(441.60 224.80) rotate(-90) scale(1 0.9)">(220)</text><text transform="translate(512.60 218.90) rotate(-90) scale(1 0.9)">(134)</text></g>
<text class="f" x="306.2" y="305.8" font-size="17" font-weight="bold" stroke="#000" stroke-width="0.3">BiFeO<tspan font-size="13" dy="4.5">3</tspan><tspan dy="-4.5"> PDF#86-1518</tspan></text>
<text class="f" x="293.4" y="415.5" font-size="28" text-anchor="middle">2 Theta (°)</text>
<text class="f" transform="translate(24.6 183.0) rotate(-90)" font-size="27.6" text-anchor="middle">Intensity (a.u.)</text>
</svg>
</body></html>
